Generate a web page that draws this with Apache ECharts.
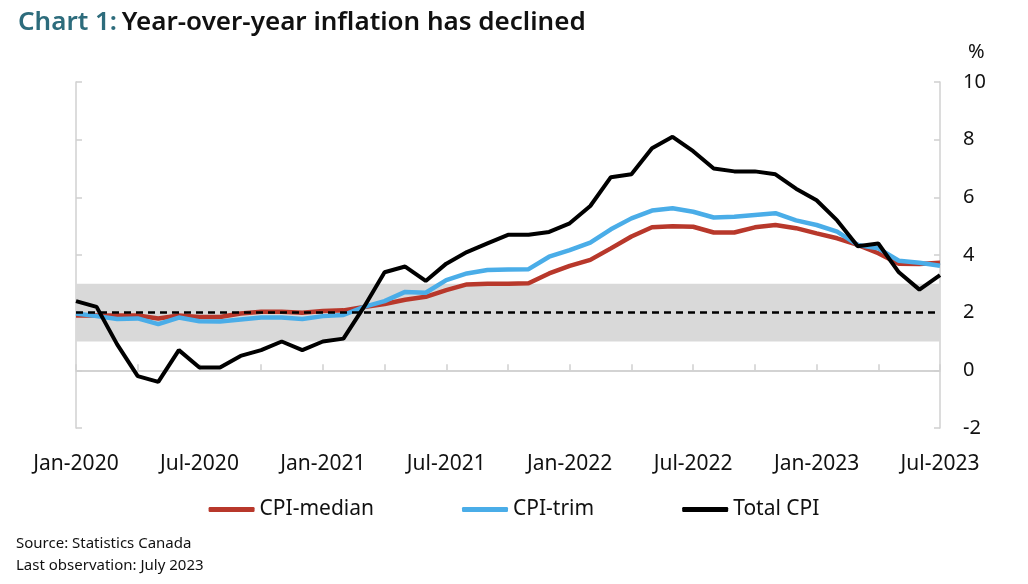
<!DOCTYPE html>
<html>
<head>
<meta charset="utf-8">
<script src="https://cdn.jsdelivr.net/npm/echarts@6/dist/echarts.min.js"></script>
<style>
  html, body { margin: 0; padding: 0; background: #fff; }
  #chart { width: 1028px; height: 584px; }
</style>
</head>
<body>
<div id="chart"></div>
<script>
// month labels Jan-2020 .. Jul-2023
const monthNames = ['Jan', 'Feb', 'Mar', 'Apr', 'May', 'Jun', 'Jul', 'Aug', 'Sep', 'Oct', 'Nov', 'Dec']
const years = [2020, 2021, 2022, 2023]
const categories = []
years.forEach(y => monthNames.forEach((m, i) => {
    if (y < 2023 || i <= 6) categories.push(m + '-' + y)
}))

// year-over-year, %
const cpiMedian = [
    1.9, 1.9, 1.9, 1.9, 1.8, 1.9, 1.85, 1.85, 1.97, 2.03, 2.03, 2.0,
    2.06, 2.08, 2.2, 2.3, 2.45, 2.55, 2.78, 2.98, 3.0, 3.0, 3.02, 3.36,
    3.62, 3.83, 4.23, 4.64, 4.96, 5.0, 4.98, 4.78, 4.78, 4.96, 5.04, 4.93,
    4.75, 4.58, 4.35, 4.06, 3.7, 3.69, 3.73
]
const cpiTrim = [
    1.97, 1.88, 1.78, 1.8, 1.6, 1.83, 1.7, 1.69, 1.76, 1.83, 1.83, 1.78,
    1.88, 1.92, 2.2, 2.4, 2.72, 2.69, 3.13, 3.36, 3.48, 3.5, 3.51, 3.94,
    4.17, 4.43, 4.89, 5.27, 5.54, 5.62, 5.5, 5.3, 5.33, 5.39, 5.45, 5.2,
    5.04, 4.81, 4.35, 4.23, 3.8, 3.73, 3.63
]
const totalCpi = [
    2.4, 2.2, 0.9, -0.2, -0.4, 0.7, 0.1, 0.1, 0.5, 0.7, 1.0, 0.7,
    1.0, 1.1, 2.2, 3.4, 3.6, 3.1, 3.7, 4.1, 4.4, 4.7, 4.7, 4.8,
    5.1, 5.7, 6.7, 6.8, 7.7, 8.1, 7.6, 7.0, 6.9, 6.9, 6.8, 6.3,
    5.9, 5.2, 4.3, 4.4, 3.4, 2.8, 3.3
]
const targetBand = [1, 3]
const targetMid = 2
const yTicks = { min: -2, max: 10, interval: 2 }

const font = '"Noto Sans", "Open Sans", sans-serif'
const axisGray = '#d0d0d0'

const chart = echarts.init(document.getElementById('chart'))

chart.setOption({
    animation: false,
    textStyle: { fontFamily: font },
    title: {
        left: 13,
        top: 5,
        text: '{a|Chart 1:} {b|Year-over-year inflation has declined}',
        textStyle: {
            rich: {
                a: { fontSize: 26, fontWeight: 600, color: '#2d6c7c', fontFamily: font },
                b: { fontSize: 26, fontWeight: 600, color: '#111', fontFamily: font }
            }
        }
    },
    legend: {
        data: ['CPI-median', 'CPI-trim', 'Total CPI'],
        left: 'center',
        top: 494,
        icon: 'roundRect',
        itemWidth: 46,
        itemHeight: 5,
        itemGap: 88,
        textStyle: { fontSize: 21, color: '#111', fontFamily: font }
    },
    grid: { left: 76, right: 88, top: 82, bottom: 156 },
    xAxis: {
        type: 'category',
        data: categories,
        boundaryGap: false,
        axisLine: { lineStyle: { color: axisGray, width: 1.5 } },
        axisTick: { inside: true, interval: 2, length: 6, lineStyle: { color: axisGray, width: 1.5 } },
        axisLabel: { interval: 5, color: '#111', fontSize: 21, margin: 26 }
    },
    yAxis: [
        {
            type: 'value',
            position: 'right',
            min: yTicks.min, max: yTicks.max, interval: yTicks.interval,
            name: '%',
            nameGap: 20,
            nameTextStyle: { color: '#111', fontSize: 20, align: 'left', padding: [0, 0, 0, 28] },
            axisLine: { show: true, lineStyle: { color: axisGray, width: 1.5 } },
            axisTick: { show: true, inside: true, length: 6, lineStyle: { color: axisGray, width: 1.5 } },
            axisLabel: { color: '#111', fontSize: 20, margin: 23 },
            splitLine: { show: false }
        },
        {
            type: 'value',
            position: 'left',
            min: yTicks.min, max: yTicks.max, interval: yTicks.interval,
            axisLine: { show: true, lineStyle: { color: axisGray, width: 1.5 } },
            axisTick: { show: true, inside: true, length: 6, lineStyle: { color: axisGray, width: 1.5 } },
            axisLabel: { show: false },
            splitLine: { show: false }
        }
    ],
    series: [
        {
            // target band + reference lines
            type: 'line',
            name: 'band',
            data: [],
            z: 1,
            silent: true,
            markArea: {
                silent: true,
                itemStyle: { color: '#d9d9d9' },
                data: [[{ yAxis: targetBand[0] }, { yAxis: targetBand[1] }]]
            },
            markLine: {
                silent: true,
                symbol: 'none',
                label: { show: false },
                data: [
                    { yAxis: 0, lineStyle: { color: axisGray, width: 1.5, type: 'solid' } },
                    { yAxis: targetMid, lineStyle: { color: '#000', width: 2.5, type: [7, 5] } }
                ]
            }
        },
        {
            name: 'CPI-median',
            type: 'line',
            data: cpiMedian,
            showSymbol: false,
            z: 3,
            color: '#b8382b',
            lineStyle: { width: 4.5, color: '#b8382b' }
        },
        {
            name: 'CPI-trim',
            type: 'line',
            data: cpiTrim,
            showSymbol: false,
            z: 4,
            color: '#4aade8',
            lineStyle: { width: 4.5, color: '#4aade8' }
        },
        {
            name: 'Total CPI',
            type: 'line',
            data: totalCpi,
            showSymbol: false,
            z: 5,
            color: '#000',
            lineStyle: { width: 4, color: '#000' }
        }
    ],
    graphic: [
        { type: 'text', left: 16, top: 536, style: { text: 'Source: Statistics Canada', fontSize: 15, fill: '#111', fontFamily: font } },
        { type: 'text', left: 16, top: 558, style: { text: 'Last observation: July 2023', fontSize: 15, fill: '#111', fontFamily: font } }
    ]
})
</script>
</body>
</html>
